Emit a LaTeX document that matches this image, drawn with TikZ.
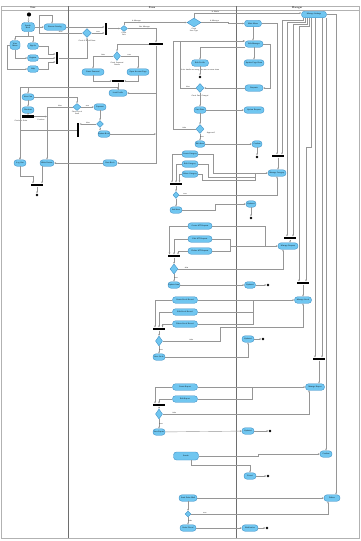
\documentclass[tikz,border=0pt]{standalone}
\usepackage{tikz}
\usetikzlibrary{arrows.meta,shapes.geometric,positioning,calc}
\definecolor{actfill}{RGB}{112,198,240}
\definecolor{actline}{RGB}{58,140,196}
\definecolor{flow}{RGB}{150,150,150}
\definecolor{lanegray}{RGB}{110,110,110}

\begin{document}
\begin{tikzpicture}[x=1pt, y=-1pt,
    act/.style={draw=actline, fill=actfill, rounded corners=3pt, minimum width=#1, minimum height=6.5pt, inner sep=0.3pt, align=center, font=\sffamily\fontsize{1.9}{2.1}\selectfont, line width=0.35pt},
    act/.default=12pt,
    dec/.style={diamond, draw=actline, fill=actfill, inner sep=0pt, line width=0.35pt},
    forkh/.style={fill=black, inner sep=0pt, minimum width=#1, minimum height=2.6pt},
    forkv/.style={fill=black, inner sep=0pt, minimum width=2.6pt, minimum height=#1},
    startdot/.style={circle, fill=black, inner sep=0pt, minimum size=4.2pt},
    enddot/.style={circle, fill=black, inner sep=0pt, minimum size=2.8pt},
    arr/.style={draw=flow, line width=0.4pt, -{Stealth[length=2pt,width=1.7pt]}},
    ln/.style={draw=flow, line width=0.4pt},
    lbl/.style={font=\sffamily\fontsize{1.8}{2}\selectfont, inner sep=0.3pt, align=center},
    lanehead/.style={font=\sffamily\fontsize{2.6}{3}\selectfont}
]
\fill[white] (0,0) rectangle (360,541);
\useasboundingbox (0,0) rectangle (360,541);

\draw[gray!60, line width=0.4pt] (1,6) rectangle (359,538);
\draw[gray!60, line width=0.4pt] (1,10) -- (359,10);
\draw[lanegray, line width=0.9pt] (68,6) -- (68,538);
\draw[lanegray, line width=0.9pt] (236,6) -- (236,538);
\node[lanehead] (hu) at (33,8) {User};
\node[lanehead] (hs) at (152,8) {Store};
\node[lanehead] (hm) at (297,8) {Manager};

\node[startdot] (st) at (29,14.5) {};
\node[act=13pt, minimum height=9pt] (srch) at (28,27) {Search\\Book};
\node[act=22pt] (brws) at (55,27) {Browse Catalog};
\node[forkv=12pt] (f0) at (106,29) {};
\node[dec, minimum width=9pt, minimum height=9pt] (chk) at (87,33) {};
\node[lbl] (tchk) at (87,40.5) {Check if Book Exists};
\node[act=10pt, minimum height=9pt] (menu) at (15,45) {View\\Menu};
\node[act=11pt] (sgn) at (33,46) {Sign In};
\node[act=11pt] (reg) at (33,58) {Register};
\node[act=11pt] (hlp) at (33,69) {Help};
\node[forkv=12pt] (f1) at (57,58) {};

\node[dec, minimum width=7pt, minimum height=6pt] (role) at (124,28.5) {};
\node[lbl] (trole) at (124,34) {Check\\Role};
\node[dec, minimum width=14pt, minimum height=9pt] (utype) at (194,22.5) {};
\node[lbl] (tutype) at (194,30) {Check\\User Type};
\node[forkh=14pt] (hb1) at (156,44) {};
\node[dec, minimum width=7pt, minimum height=9pt] (pw) at (117,56) {};
\node[lbl] (tpw) at (117,64) {Check Password\\Details};
\node[act=22pt] (acc1) at (93,72) {Reset Password};
\node[act=22pt] (acc2) at (138,72) {Open Account Page};
\node[forkh=12pt] (b81) at (118,81) {};
\node[act=18pt] (lgn) at (118,93) {Load Profile};

\node[act=12pt] (cart) at (28,97) {View Cart};
\node[act=12pt] (ck) at (28,110) {Checkout};
\node[forkh=12pt] (b116) at (28,116.5) {};
\node[lbl] (tco) at (21,121) {Checkout Order};
\node[lbl] (tcont) at (41,119.5) {Continue};
\coordinate (j1) at (47,116.5);
\node[dec, minimum width=8pt, minimum height=7pt] (pay) at (77,107) {};
\node[lbl] (tpay) at (77,113) {Check Stock\\Stuff};
\node[act=12pt] (pmt) at (100,107) {Payment};
\node[dec, minimum width=7pt, minimum height=7pt] (pchk) at (100,124) {};
\node[forkv=14pt] (v2) at (78,130) {};
\node[act=12pt] (upd) at (104,134) {Update Book};
\coordinate (j3) at (156,134);
\node[act=12pt] (out) at (20,163) {Log Out};
\node[act=14pt] (rvw) at (47,163) {Write Review};
\node[act=14pt] (rv) at (110,163) {Rate Book};
\node[forkh=12pt] (lb) at (37,185) {};
\node[enddot] (e0) at (37,195) {};

\node[act=25pt] (m0) at (314,14.5) {Manage Settings};
\node[act=17pt] (m1) at (253,23.5) {Main Menu};
\node[act=18pt] (m2) at (254,44) {Edit Manager};
\node[act=20pt] (m3) at (254,63) {Update Page Views};
\node[act=18pt] (m4) at (254,88) {Requests};
\node[act=20pt] (m5) at (254,110) {Update Request};

\node[act=17pt] (upv) at (200,63) {Edit Profile};
\node[lbl] (tupv) at (200,70) {If the details are wrong, the user re-enters them};
\node[enddot] (e1) at (200,77) {};
\node[dec, minimum width=8pt, minimum height=9pt] (chg) at (200,88) {};
\node[lbl] (tchg) at (200,96.5) {Check Data Changed};
\node[act=12pt] (ap) at (200,110) {Save Data};
\node[dec, minimum width=8pt, minimum height=9pt] (acc) at (200,129) {};
\node[lbl] (tacc) at (211,133) {Approved?};
\node[act=10pt] (ed) at (200,144) {Edit Item};

\node[act=10pt] (cf1) at (257,144) {Confirm};
\node[enddot] (e2) at (257,157) {};
\node[act=16pt] (c1) at (190,154) {Create Category};
\node[act=16pt] (c2) at (190,164) {Edit Category};
\node[act=16pt] (c3) at (190,174) {Delete Category};
\node[forkh=12pt] (cb) at (176,184) {};
\node[dec, minimum width=6pt, minimum height=7pt] (cd) at (176,195) {};
\node[act=12pt] (ai) at (176,210) {Add Item};
\node[forkh=12pt] (mb1) at (278,156) {};
\node[act=18pt] (mc) at (277,173) {Manage Category};
\coordinate (mcin) at (255,173);
\node[act=10pt] (upd1) at (251,204) {Updated};
\node[enddot] (e3) at (251,218) {};

\node[act=24pt] (t1) at (200,226) {Create MT Request};
\node[act=24pt] (t2) at (200,239) {Edit MT Request};
\node[act=24pt] (t3) at (200,251) {Delete MT Request};
\node[forkh=12pt] (tb) at (174,256) {};
\node[dec, minimum width=8pt, minimum height=10pt] (td) at (174,269) {};
\node[act=12pt] (tn) at (174,285) {Update Item};
\node[forkh=12pt] (mb2) at (290,238) {};
\node[act=20pt] (mt) at (288,246) {Manage Request};
\node[act=11pt] (r1) at (250,285) {Updated};
\node[enddot] (e4) at (268,285) {};

\node[act=25pt] (s1) at (185,300) {Create Stock Record};
\node[act=25pt] (s2) at (185,312) {Edit Stock Record};
\node[act=25pt] (s3) at (185,324) {Delete Stock Record};
\node[forkh=12pt] (sb) at (159,329) {};
\node[dec, minimum width=7pt, minimum height=10pt] (sd) at (159,341) {};
\node[act=12pt] (sn) at (159,357) {Save Stock};
\node[forkh=12pt] (mb3) at (303,283) {};
\node[act=17pt] (ms) at (303,300) {Manage Stock};
\node[act=12pt] (r2) at (248,339) {Updated};
\node[enddot] (e5) at (263,339) {};

\node[act=25pt] (u1) at (185,387) {Create Report};
\node[act=25pt] (u2) at (185,399) {Edit Report};
\node[forkh=12pt] (ub) at (159,405) {};
\node[dec, minimum width=7pt, minimum height=10pt] (ud) at (159,414) {};
\node[act=12pt] (un) at (159,432) {Save Report};
\node[forkh=12pt] (mb4) at (319,359) {};
\node[act=19pt] (mr) at (315,387) {Manage Report};
\node[act=12pt] (r3) at (248,431) {Updated};
\node[enddot] (e6) at (270,431) {};

\node[act=25pt, minimum height=8pt] (sr) at (186,456) {Search};
\node[act=12pt] (cf2) at (326,454) {Confirm};
\node[act=12pt] (r4) at (250,476) {Found};
\node[enddot] (e7) at (268,476) {};

\node[act=18pt] (lg) at (188,498) {Send Order Mail};
\node[dec, minimum width=6pt, minimum height=6pt] (ldm) at (188,514) {};
\node[act=16pt] (ln2) at (188,528) {Order Placed};
\node[act=16pt] (cf3) at (332,498) {Deliver};
\node[act=16pt] (r5) at (250,528) {Notification};
\node[enddot] (e8) at (267,528) {};

\draw[arr] (st) -- (srch);
\draw[arr] (srch) -- (brws);
\draw[arr] (brws) -- (f0.west |- brws);
\draw[arr] (chk) -- node[lbl, above]{true} (f0.west |- chk);
\draw[arr] (chk) -- node[lbl, above]{false} (39,33) -- (39,15) -| ([xshift=-3pt]brws.north);
\draw[ln] (srch) -- (28,36);
\draw[arr] (28,36) -| (menu);
\draw[arr] (28,36) -| (sgn);
\draw[arr] (menu.west) -- (7,45) |- (hlp);
\draw[arr] (menu) |- (reg);
\draw[arr] (sgn) -- (48,46) |- ([yshift=4pt]f1.west);
\draw[arr] (reg) -- (f1);
\draw[arr] (hlp) -- (48,69) |- ([yshift=-4pt]f1.west);
\draw[arr] (f1) -| (chk);

\draw[arr] (f0.east |- role) -- (role);
\draw[arr] (role) |- node[lbl, above, pos=0.6]{Is Manager} (utype);
\draw[arr] (role) -| node[lbl, above, pos=0.3]{Not Manager} (hb1);
\draw[arr] (utype) |- node[lbl, above, pos=0.6]{Is Admin} ([yshift=1.5pt]m0.west);
\draw[arr] (utype) -- node[lbl, above]{Is Manager} (228,22.5) |- (m1);
\draw[arr] (hb1) -| (pw);
\draw[arr] (pw) -| node[lbl, above, pos=0.25]{false} (acc1);
\draw[arr] (pw) -| node[lbl, above, pos=0.25]{true} (acc2);
\draw[arr] (acc1) |- (b81);
\draw[arr] (acc2) |- (b81);
\draw[arr] (b81) -- (lgn);
\draw[arr] (hb1) |- (lgn);
\draw[arr] (hb1) |- (rv);

\draw[arr] (lgn) -- (118,87) -| (cart);
\draw[arr] (28,87) -| (out);
\draw[arr] (cart) -- (ck);
\draw[arr] (ck) -- (b116);
\draw[arr] (b116) -- (j1);
\draw[arr] (cart) -| (pay);
\draw[arr] (pay) -- node[lbl, above]{true} (pmt);
\draw[arr] (pay) -| node[lbl, above, pos=0.25]{false} (rvw);
\draw[arr] (pmt) -- (pchk);
\draw[arr] (pchk) -- node[lbl, above]{false} (v2.east |- pchk);
\draw[arr] (pchk) -- (pchk |- upd.north);
\draw[arr] (v2) -| (out);
\draw[arr] (upd) -- (j3);
\draw[arr] (rv) -- (rvw);
\draw[arr] (out) -- (20,176) -| ([xshift=-4pt]lb.north);
\draw[arr] ([xshift=-5pt]rvw.south) -- ([xshift=-5pt]rvw.south |- lb.north);
\draw[arr] (lb) -- (e0);

\draw[arr] (m1) -- (m1 |- m2.north);
\draw[arr] (m2) -- (m3);
\draw[arr] (m2) -- (270,44) |- (m4);
\draw[arr] ([yshift=-3pt]m2.west) -| (upv);
\draw[arr] (upv) -- (e1);
\draw[arr] (m4) -- (chg);
\draw[arr] (chg) -- node[lbl, above]{false} (180,88) |- ([yshift=3pt]m2.west);
\draw[arr] (chg) -- (ap);
\draw[arr] (ap) -- (m5);
\draw[arr] (ap) -- (acc);
\draw[arr] (acc) -- node[lbl, above]{false} (173,129) |- ([yshift=3pt]m2.west);
\draw[arr] (acc) -- node[lbl, right]{true} (ed);
\draw[arr] (ed) -- (cf1);
\draw[arr] (cf1) -- (e2);

\draw[arr] (c1) -| ([xshift=-4pt]cb.north);
\draw[arr] (c2) -| (cb);
\draw[arr] (c3) -| ([xshift=3.5pt]cb.north);
\draw[arr] (c1) -- (213,154) |- (mc);
\draw[ln] (c2) -- (208,164) |- (255,177) -- (mcin);
\draw[ln] (c3) -- (202,174) |- (255,180) -- (255,177);
\draw[arr] (cb) -- (cd);
\draw[arr] (cd) -| node[lbl, above, pos=0.03]{true} (mc);
\draw[arr] (cd) -- (ai);
\draw[arr] (ai) -- (215,210) |- (upd1);
\draw[arr] (upd1) -- (e3);
\draw[arr] (mb1) -- (mb1 |- mc.north);

\draw[arr] (t1) -| ([xshift=-4.5pt]tb.north);
\draw[arr] (t2) -| (tb);
\draw[arr] (t3) -| ([xshift=4pt]tb.north);
\draw[ln] (t1) -- (265,226) -- (265,246);
\draw[arr] (t2) -- (230,239) |- (mt);
\draw[ln] (t3) -- (230,251) -- (230,246);
\draw[arr] (tb) -- (td);
\draw[arr] (td) -| node[lbl, above, pos=0.04]{false} ([xshift=-5pt]mt.south);
\draw[arr] (td) -- node[lbl, right]{true} (tn);
\draw[arr] (tn) -- (r1);
\draw[arr] (r1) -- (e4);
\draw[arr] (mb2) -- (mb2 |- mt.north);

\draw[arr] (s1) -| ([xshift=-4pt]sb.north);
\draw[arr] (s2) -| (sb);
\draw[arr] (s3) -| ([xshift=3.5pt]sb.north);
\draw[arr] (s1) -- (ms);
\draw[ln] (s2) -- (253,312) -- (253,300);
\draw[ln] (s3) -- (253,324) -- (253,312);
\draw[arr] (sb) -- (sd);
\draw[arr] (sd) -- node[lbl, above]{false} (220,341) |- (303,327) -- (ms);
\draw[arr] (sd) -- node[lbl, right]{true} (sn);
\draw[arr] (sn) -| (r2);
\draw[arr] (r2) -- (e5);
\draw[arr] (mb3) -- (ms);

\draw[arr] (u1) -| ([xshift=-4pt]ub.north);
\draw[arr] (u2) -| (ub);
\draw[arr] (u1) -- (mr);
\draw[ln] (u2) -- (252,399) -- (252,387);
\draw[arr] (ub) -- (ud);
\draw[arr] (ud) -| node[lbl, above, pos=0.04]{false} ([xshift=-6pt]mr.south);
\draw[arr] (ud) -- node[lbl, right]{true} (un);
\draw[arr] (un) -- (r3);
\draw[arr] (r3) -- (e6);
\draw[arr] (mb4) -- (mb4 |- mr.north);

\draw[arr] (sr) -- (258,456) |- (cf2);
\draw[arr] ([xshift=5pt]sr.south) -- ++(0,5) -| (r4);
\draw[arr] (r4) -- (e7);

\draw[arr] (lg) -- (ldm);
\draw[arr] (ldm) -- node[lbl, right]{false} (ln2);
\draw[arr] (lg) -- (cf3);
\draw[arr] (ldm) -| node[lbl, above, pos=0.05]{true} ([xshift=-4pt]cf3.south);
\draw[arr] (ln2) -- (r5);
\draw[arr] (r5) -- (e8);

\draw[arr] (m1) -| ([xshift=-1pt]mb1.north);
\draw[arr] ([xshift=-11pt]m0.south) -- ++(0,2) -| ([xshift=4pt]mb1.north);
\draw[arr] ([xshift=-9pt]m0.south) -- ++(0,4) -| ([xshift=-3pt]mb2.north);
\draw[arr] ([xshift=-7pt]m0.south) -- ++(0,6) -| ([xshift=3pt]mb2.north);
\draw[arr] ([xshift=-5pt]m0.south) -- ++(0,8) -| ([xshift=-4pt]mb3.north);
\draw[arr] ([xshift=-3pt]m0.south) -- (311,147) -| ([xshift=3pt]mb3.north);
\draw[arr] ([xshift=1pt]m0.south) -- ([xshift=-4pt]mb4.north);
\draw[arr] ([xshift=8pt]m0.south) -- ([xshift=3pt]mb4.north);
\draw[arr] ([xshift=12pt]m0.south) -- (cf2);
\draw[arr] (m0) -| ([xshift=4pt]cf3.north);
\end{tikzpicture}
\end{document}
